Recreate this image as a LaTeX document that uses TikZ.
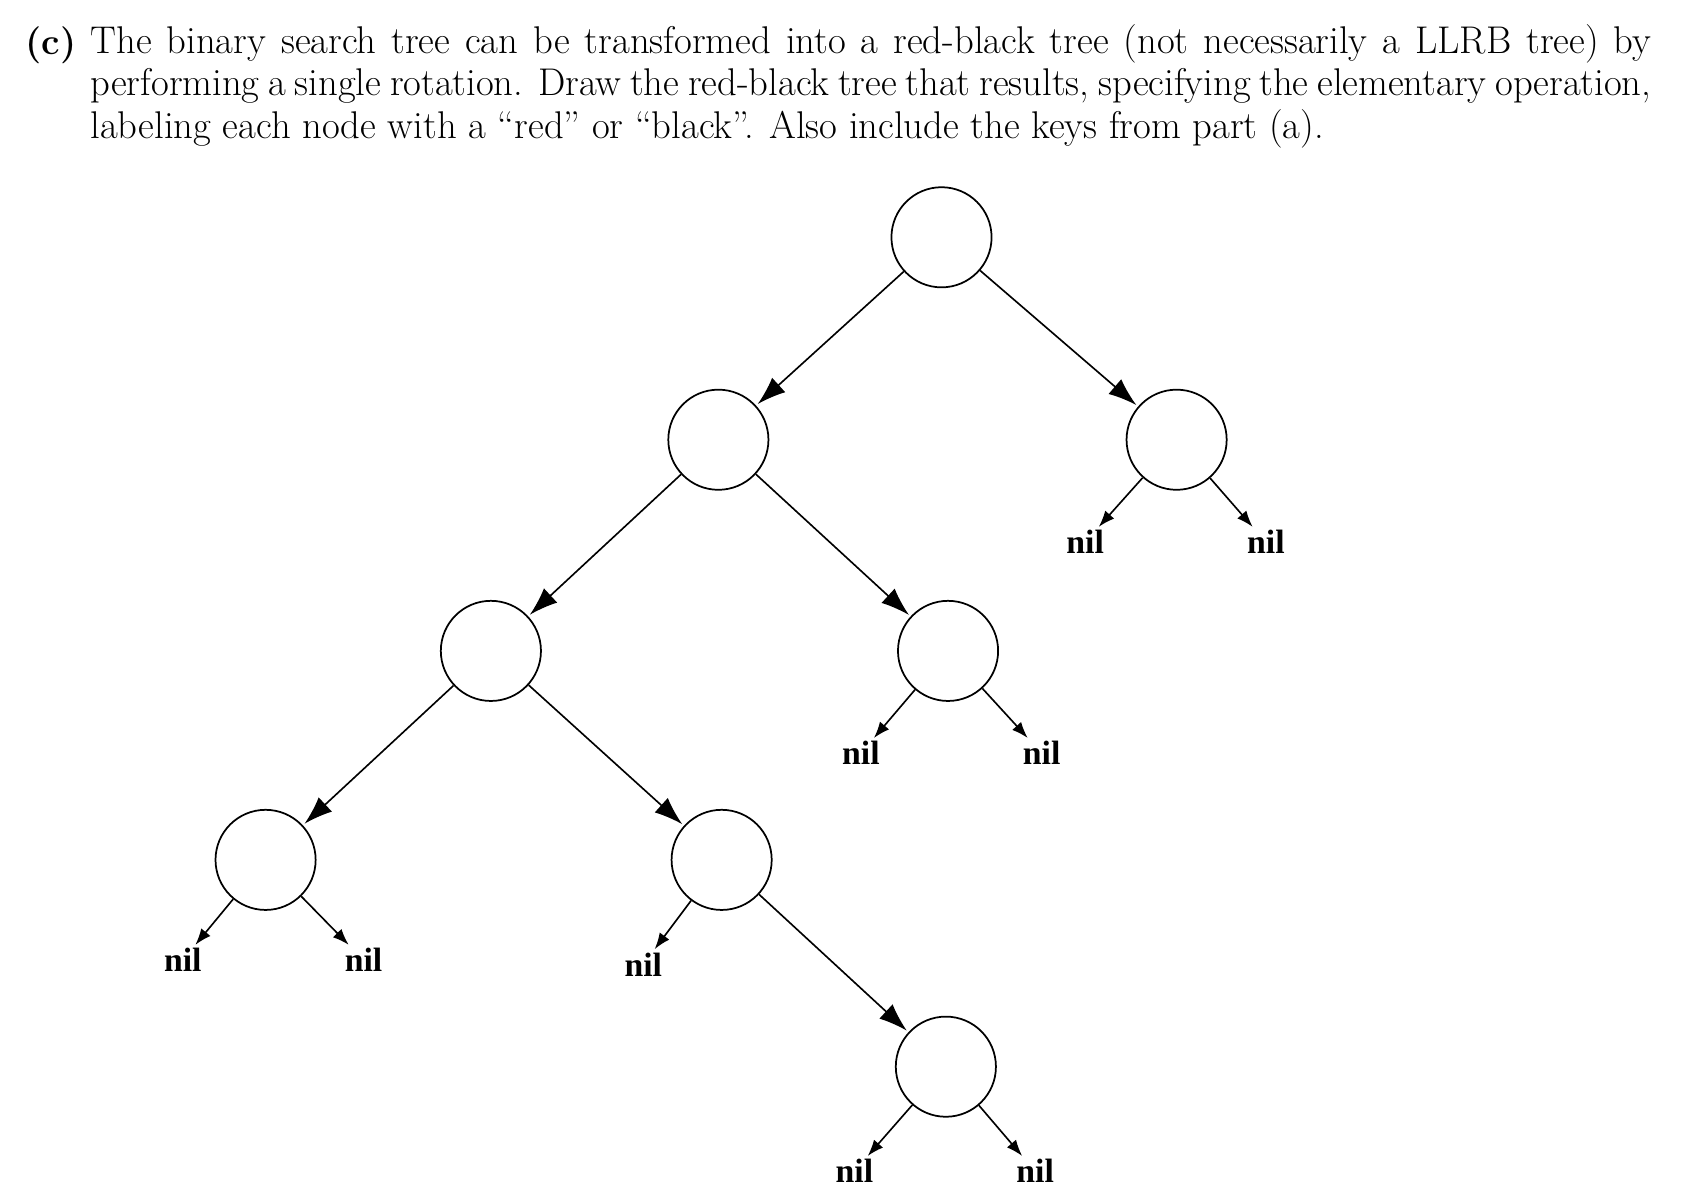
\documentclass[tikz,border=0pt]{standalone}
\usepackage{fontspec}
\newfontfamily\nilfont{Liberation Serif}
\usetikzlibrary{arrows.meta}
\begin{document}
\begin{tikzpicture}[x=1pt,y=-1pt,
  rb/.style={circle,draw,line width=1.6pt,minimum size=92pt,inner sep=0pt},
  nilnode/.style={font=\nilfont\bfseries\fontsize{31}{31}\selectfont,inner sep=3pt},
  big/.style={line width=1.5pt,-{Latex[length=26pt,width=18pt]},shorten >=2pt},
  small/.style={line width=1.5pt,-{Latex[length=15pt,width=11pt]}}]
\useasboundingbox (0,0) rectangle (1549,1103);
\node[anchor=base west,font=\fontsize{34}{39}\selectfont] (lab) at (20,50) {\textbf{(c)}};
\node[anchor=north west,text width=1434pt,inner sep=0pt,align=justify,font=\fontsize{35.5}{39}\selectfont] (txt) at (83,22)
{\hbadness=10000 The binary search tree can be transformed into a red-black tree (not necessarily a LLRB tree) by\linebreak performing a single rotation. Draw the red-black tree that results, specifying the elementary operation,\linebreak labeling each node with a ``red'' or ``black''. Also include the keys from part (a).};
\node[rb] (r) at (865,218) {};
\node[rb] (a) at (660,404) {};
\node[rb] (b) at (1081,404) {};
\node[rb] (c) at (451,598) {};
\node[rb] (d) at (871,598) {};
\node[rb] (e) at (244,790) {};
\node[rb] (f) at (663,790) {};
\node[rb] (g) at (869,980) {};
\node[nilnode] (b1) at (997,498) {nil};
\node[nilnode] (b2) at (1163,498) {nil};
\node[nilnode] (d1) at (791,692) {nil};
\node[nilnode] (d2) at (957,692) {nil};
\node[nilnode] (e1) at (168,882) {nil};
\node[nilnode] (e2) at (334,882) {nil};
\node[nilnode] (f1) at (591,886) {nil};
\node[nilnode] (g1) at (785,1076) {nil};
\node[nilnode] (g2) at (951,1076) {nil};
\draw[big] (r) -- (a);
\draw[big] (r) -- (b);
\draw[big] (a) -- (c);
\draw[big] (a) -- (d);
\draw[big] (c) -- (e);
\draw[big] (c) -- (f);
\draw[big] (f) -- (g);
\draw[small] (b) -- (b1);
\draw[small] (b) -- (b2);
\draw[small] (d) -- (d1);
\draw[small] (d) -- (d2);
\draw[small] (e) -- (e1);
\draw[small] (e) -- (e2);
\draw[small] (f) -- (f1);
\draw[small] (g) -- (g1);
\draw[small] (g) -- (g2);
\end{tikzpicture}
\end{document}
